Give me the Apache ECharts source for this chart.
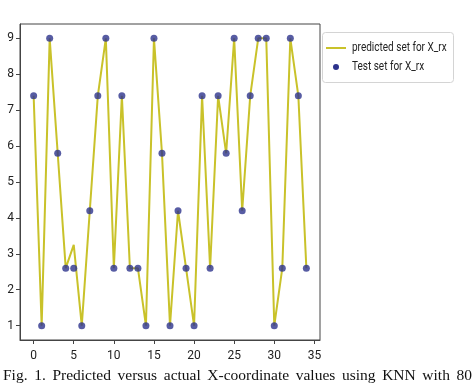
<!DOCTYPE html>
<html>
<head>
<meta charset="utf-8">
<script src="https://cdn.jsdelivr.net/npm/echarts@6/dist/echarts.min.js"></script>
<style>
html, body { margin: 0; padding: 0; background: #fff; }
#chart { width: 474px; height: 391px; }
</style>
</head>
<body>
<div id="chart"></div>
<script>
// sample index on the x axis
var sampleIdx = [0,1,2,3,4,5,6,7,8,9,10,11,12,13,14,15,16,17,18,19,20,21,22,23,24,25,26,27,28,29,30,31,32,33,34];
// KNN predicted X_rx
var predicted = [7.4,1,9,5.8,2.6,3.25,1,4.2,7.4,9,2.6,7.4,2.6,2.6,1,9,5.8,1,4.2,2.6,1,7.4,2.6,7.4,5.8,9,4.2,7.4,9,9,1,2.6,9,7.4,2.6];
// test set X_rx
var actual = [7.4,1,9,5.8,2.6,2.6,1,4.2,7.4,9,2.6,7.4,2.6,2.6,1,9,5.8,1,4.2,2.6,1,7.4,2.6,7.4,5.8,9,4.2,7.4,9,9,1,2.6,9,7.4,2.6];
var xTicks = [0,5,10,15,20,25,30,35];
var yTicks = [1,2,3,4,5,6,7,8,9];
var lineName = 'predicted set for X_rx';
var dotName = 'Test set for X_rx';
var caption = 'Fig. 1. Predicted versus actual X-coordinate values using KNN with 80';

var lineColor = '#c9c22a';
var dotColor = '#2d338c';
var tickFont = 'Roboto, "DejaVu Sans", sans-serif';
var capFont = '"Liberation Serif", serif';
var capSize = 15.5;

var chart = echarts.init(document.getElementById('chart'));

// spread the caption words over the full width, like the justified paper text
function captionWords () {
    var ctx = document.createElement('canvas').getContext('2d');
    ctx.font = capSize + 'px ' + capFont;
    var words = caption.split(' ');
    var widths = words.map(function (w) { return ctx.measureText(w).width; });
    var total = widths.reduce(function (a, b) { return a + b; }, 0);
    var x0 = 3, x1 = 472;
    var gap = (x1 - x0 - total) / (words.length - 1);
    var out = [], x = x0;
    words.forEach(function (w, i) {
        out.push({
            type: 'text', left: x, top: 368,
            style: { text: w, fill: '#111', fontSize: capSize, fontFamily: capFont }
        });
        x += widths[i] + gap;
    });
    return out;
}

var legendGraphic = [
    {
        type: 'rect', left: 322, top: 32,
        shape: { width: 131, height: 50, r: 3 },
        style: { fill: '#fff', stroke: '#d4d4d4', lineWidth: 1 }
    },
    {
        type: 'line', shape: { x1: 326, y1: 48, x2: 346, y2: 48 },
        style: { stroke: lineColor, lineWidth: 2 }
    },
    {
        type: 'circle', shape: { cx: 336, cy: 67, r: 3 },
        style: { fill: dotColor }
    },
    {
        type: 'text', x: 352, y: 48, scaleX: 0.8,
        style: { text: lineName, fill: '#222', fontSize: 12.5, fontFamily: 'Roboto, sans-serif', verticalAlign: 'middle' }
    },
    {
        type: 'text', x: 352, y: 67, scaleX: 0.8,
        style: { text: dotName, fill: '#222', fontSize: 12.5, fontFamily: 'Roboto, sans-serif', verticalAlign: 'middle' }
    }
];

var option = {
    animation: false,
    backgroundColor: '#fff',
    grid: {
        left: 20, right: 154, top: 24, bottom: 51,
        show: true, borderColor: '#444', borderWidth: 1
    },
    xAxis: {
        type: 'value', min: -1.7, max: 35.7,
        splitLine: { show: false },
        axisLine: { onZero: false, lineStyle: { color: '#444' } },
        axisTick: { customValues: xTicks, length: 4, lineStyle: { color: '#444' } },
        axisLabel: { customValues: xTicks, color: '#222', fontSize: 12, fontFamily: tickFont, margin: 10 }
    },
    yAxis: {
        type: 'value', min: 0.6, max: 9.4,
        splitLine: { show: false },
        axisLine: { show: true, onZero: false, lineStyle: { color: '#444' } },
        axisTick: { show: true, customValues: yTicks, length: 4, lineStyle: { color: '#444' } },
        axisLabel: { customValues: yTicks, color: '#222', fontSize: 12, fontFamily: tickFont, margin: 6 }
    },
    graphic: legendGraphic.concat(captionWords()),
    series: [
        {
            name: lineName, type: 'line',
            data: sampleIdx.map(function (x, i) { return [x, predicted[i]]; }),
            showSymbol: false, symbol: 'none',
            lineStyle: { color: lineColor, width: 2 },
            itemStyle: { color: lineColor },
            z: 2
        },
        {
            name: dotName, type: 'scatter',
            data: sampleIdx.map(function (x, i) { return [x, actual[i]]; }),
            symbol: 'circle', symbolSize: 7,
            itemStyle: { color: dotColor },
            z: 3
        }
    ]
};

chart.setOption(option);
</script>
</body>
</html>
